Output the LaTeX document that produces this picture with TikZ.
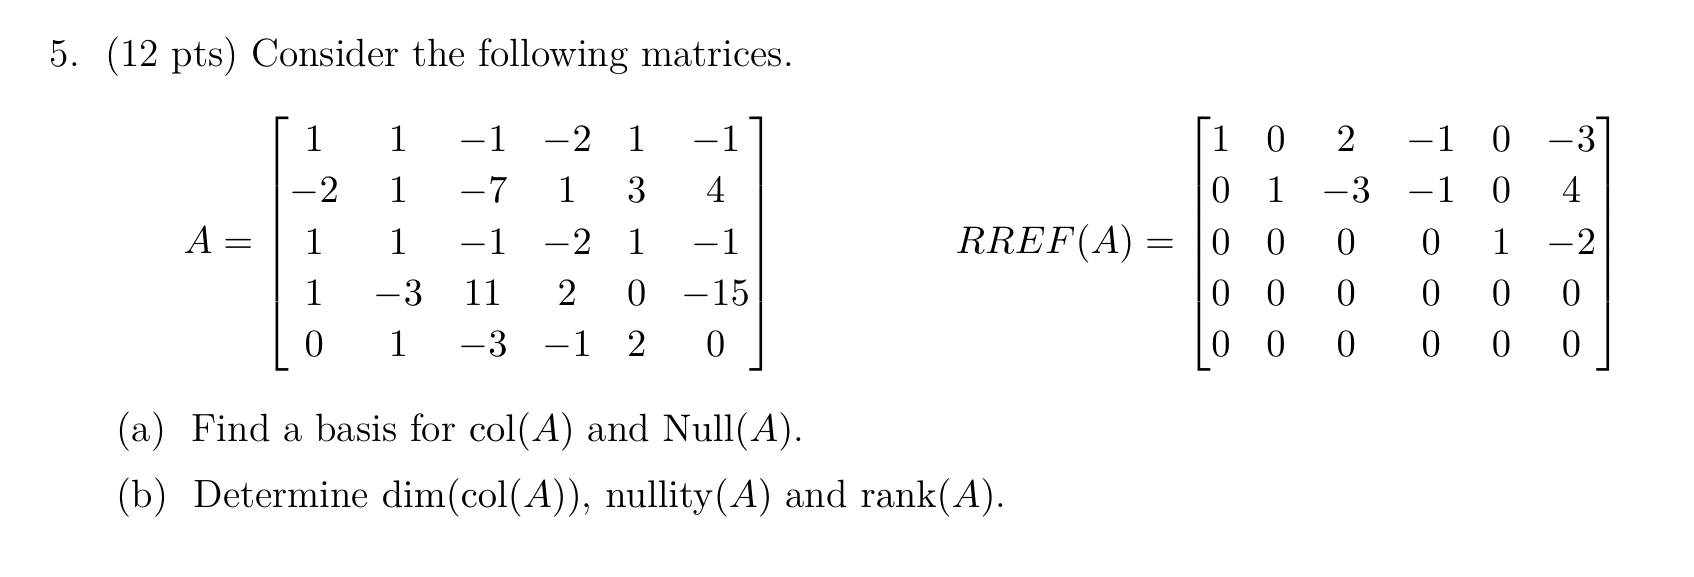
\documentclass[tikz,border=0pt]{standalone}
\usepackage{amsmath}
\begin{document}
\begin{tikzpicture}[x=0.01cm,y=-0.01cm,txt/.style={inner sep=0pt,anchor=base west,font=\fontsize{11.2}{13.5}\selectfont}]
\useasboundingbox (0,0) rectangle (1694,577);
\node[txt] (title) at (49,67) {5.\ \ (12 pts) Consider the following matrices.};
\node[txt,anchor=west] (A) at (183,244) {$A=\renewcommand{\arraystretch}{1.08}\begin{bmatrix}1&1&-1&-2&1&-1\\-2&1&-7&1&3&4\\1&1&-1&-2&1&-1\\1&-3&11&2&0&-15\\0&1&-3&-1&2&0\end{bmatrix}$};
\node[txt,anchor=west] (R) at (955,244) {$RREF(A)=\renewcommand{\arraystretch}{1.08}\setlength{\arraycolsep}{5.1pt}\begin{bmatrix}1&0&2&-1&0&-3\\0&1&-3&-1&0&4\\0&0&0&0&1&-2\\0&0&0&0&0&0\\0&0&0&0&0&0\end{bmatrix}$};
\node[txt] (a) at (116,442) {(a)\ \ Find a basis for $\operatorname{col}(A)$ and $\operatorname{Null}(A)$.};
\node[txt] (b) at (116,508) {(b)\ \ Determine $\dim(\operatorname{col}(A))$, $\operatorname{nullity}(A)$ and $\operatorname{rank}(A)$.};
\end{tikzpicture}
\end{document}
